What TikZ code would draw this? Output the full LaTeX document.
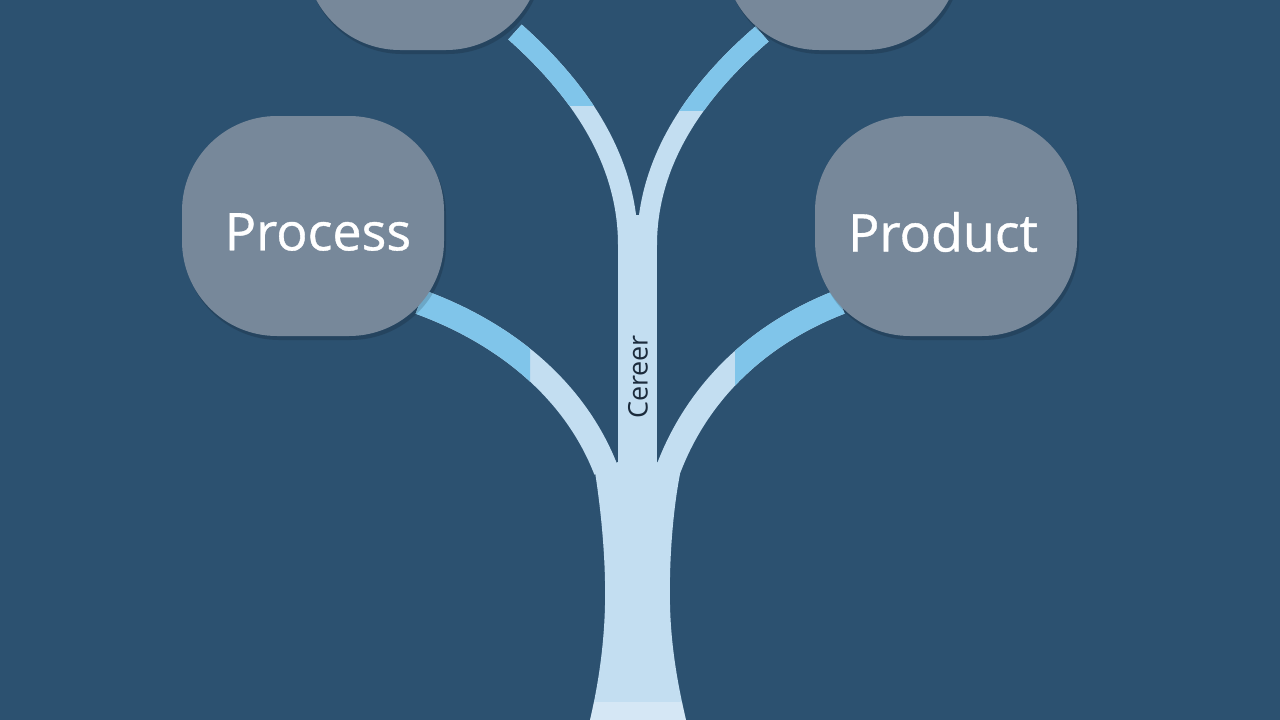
\documentclass[tikz,border=0pt]{standalone}
\usepackage{fontspec}
\setmainfont{Open Sans}
\newfontfamily\bubblefont{Open Sans}[FakeBold=0.7]
\usetikzlibrary{shadows}
\definecolor{bgc}{HTML}{2C5170}
\definecolor{nodec}{HTML}{77889A}
\definecolor{palec}{HTML}{C3DEF1}
\definecolor{satc}{HTML}{80C5EA}
\definecolor{inkc}{HTML}{1B2B3C}
\tikzset{
  bubble/.style={fill=nodec, rounded corners=95pt, minimum width=262pt, minimum height=220pt,
    inner sep=0pt,
    drop shadow={shadow xshift=2pt, shadow yshift=-4pt, opacity=0.15, fill=black}},
  topbubble/.style={bubble, minimum width=236pt},
  bubbletext/.style={text=white, font=\bubblefont\fontsize{52}{60}\selectfont, inner sep=0pt},
  branch/.style={draw=palec, line width=25pt, line cap=butt},
  satbranch/.style={draw=satc, line width=25pt, line cap=butt},
  twig/.style={draw=palec, line width=20pt, line cap=butt},
  sattwig/.style={draw=satc, line width=20pt, line cap=butt},
  stemlabel/.style={text=inkc, font=\fontsize{27}{30}\selectfont, rotate=90, inner sep=0pt}
}
\begin{document}
\begin{tikzpicture}[x=1pt,y=-1pt]
\useasboundingbox (0,0) rectangle (1280,720);
\fill[bgc] (0,0) rectangle (1280,720);

% junction coordinates
\coordinate (jl) at (606,470);
\coordinate (jr) at (668,470);
\coordinate (ul) at (628,245);
\coordinate (ur) at (647,245);
\coordinate (tl) at (515,32);
\coordinate (tr) at (762,34);
\coordinate (pl) at (420,302);
\coordinate (pr) at (840,302);

% trunk
\path[save path=\trunkpath] (595,472) -- (618,462) -- (657,462) -- (680,474)
  .. controls (673,510) and (669,560) .. (670,605)
  .. controls (671,650) and (679,690) .. (686,720)
  -- (590,720)
  .. controls (597,690) and (604,650) .. (605,605)
  .. controls (606,560) and (601,510) .. (595,472) -- cycle;
\fill[palec, use path=\trunkpath];
\begin{scope}
  \clip[use path=\trunkpath];
  \fill[white, opacity=0.3] (580,702) rectangle (700,720);
\end{scope}
\fill[palec] (618,215) rectangle (657,470);

% upper branches
\draw[twig] (ul) .. controls (628,160) and (580,90) .. (tl);
\draw[twig] (ur) .. controls (647,160) and (697,90) .. (tr);
\begin{scope}
  \clip (0,0) rectangle (1280,105);
  \draw[sattwig] (ul) .. controls (628,160) and (580,90) .. (tl);
\end{scope}
\begin{scope}
  \clip (0,0) rectangle (1280,110);
  \draw[sattwig] (ur) .. controls (647,160) and (697,90) .. (tr);
\end{scope}

% lower branches
\draw[branch] (pl) .. controls (505,333) and (575,390) .. (jl);
\draw[branch] (pr) .. controls (760,333) and (698,390) .. (jr);
\begin{scope}
  \clip (0,0) rectangle (530,720);
  \draw[satbranch] (pl) .. controls (505,333) and (575,390) .. (jl);
\end{scope}
\begin{scope}
  \clip (735,0) rectangle (1280,720);
  \draw[satbranch] (pr) .. controls (760,333) and (698,390) .. (jr);
\end{scope}

% nodes
\node[topbubble] (tln) at (423,-60) {};
\node[topbubble] (trn) at (842,-60) {};
\node[bubble] (proc) at (313,226) {};
\node[bubble] (prod) at (946,226) {};
\node[bubbletext] (proct) at (318,232) {Process};
\node[bubbletext] (prodt) at (943,232) {Product};

% stem label
\node[stemlabel] (stem) at (638,377) {Cereer};
\end{tikzpicture}
\end{document}
